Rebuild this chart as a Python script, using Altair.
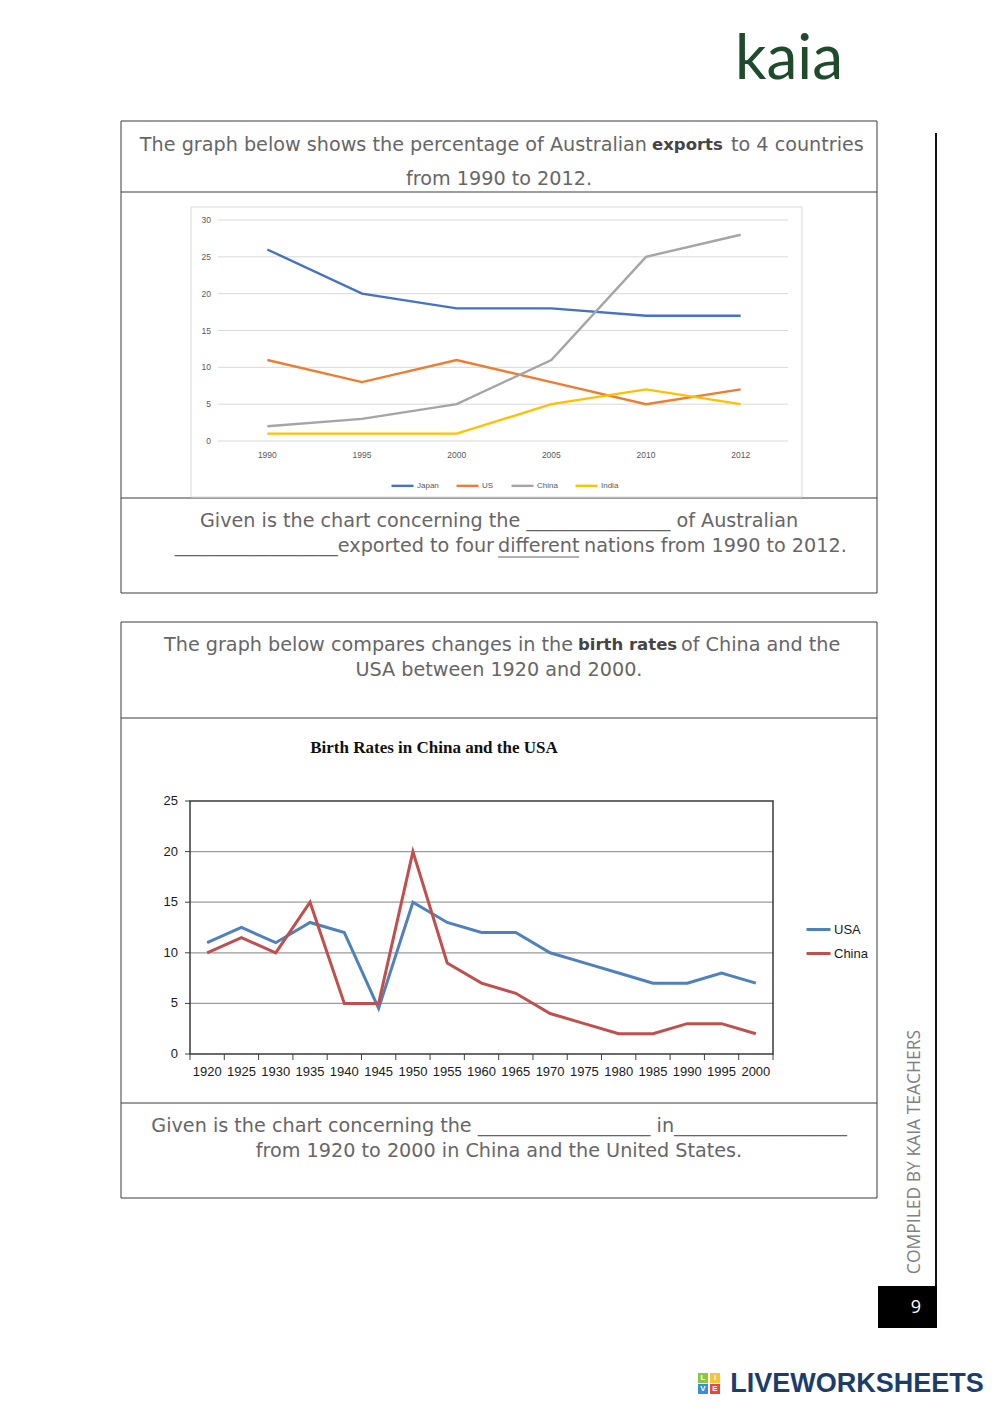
import altair as alt
import pandas as pd

# ---------------- data: chart 1 (Australian exports) ----------------
years1 = ["1990", "1995", "2000", "2005", "2010", "2012"]
series1 = ["Japan", "US", "China", "India"]
japan = [26, 20, 18, 18, 17, 17]
us = [11, 8, 11, 8, 5, 7]
china1 = [2, 3, 5, 11, 25, 28]
india = [1, 1, 1, 5, 7, 5]
colors1 = ["#4472C4", "#ED7D31", "#A5A5A5", "#FFC000"]
yticks1 = [0, 5, 10, 15, 20, 25, 30]

# ---------------- data: chart 2 (birth rates) ----------------
years2 = ["1920", "1925", "1930", "1935", "1940", "1945", "1950", "1955", "1960",
          "1965", "1970", "1975", "1980", "1985", "1990", "1995", "2000"]
series2 = ["USA", "China"]
usa = [11, 12.5, 11, 13, 12, 4.5, 15, 13, 12, 12, 10, 9, 8, 7, 7, 8, 7]
china2 = [10, 11.5, 10, 15, 5, 5, 20, 9, 7, 6, 4, 3, 2, 2, 3, 3, 2]
colors2 = ["#4F81BD", "#C0504D"]
yticks2 = [0, 5, 10, 15, 20, 25]

W, H = 984, 1392
M = 8  # page margin
BODY = "DejaVu Sans"
GRAY = "#666666"
FS = 19.2
BFS = 16.5


def v(p):
    return alt.value(p - M)


base = alt.Chart(pd.DataFrame({"k": [0]}))


def txt(s, x, y, size=FS, color=GRAY, align="center", weight="normal",
        font=BODY, angle=0, baseline="middle"):
    return base.mark_text(text=s, fontSize=size, color=color, align=align,
                          fontWeight=weight, font=font, angle=angle,
                          baseline=baseline).encode(x=v(x), y=v(y))


def rule(x1, y1, x2, y2, color="#333333", w=1):
    return base.mark_rule(color=color, strokeWidth=w).encode(
        x=v(x1), y=v(y1), x2=v(x2), y2=v(y2))


def rect(x1, y1, x2, y2, fill=None, stroke=None, w=1):
    kw = {}
    if fill is not None:
        kw["fill"] = fill
    else:
        kw["fillOpacity"] = 0
    if stroke is not None:
        kw["stroke"] = stroke
        kw["strokeWidth"] = w
    return base.mark_rect(**kw).encode(x=v(x1), y=v(y1), x2=v(x2), y2=v(y2))


# ---------------- page decorations ----------------
decor = [
    # logo
    txt("kaia", 789, 79, size=62, color="#1f4a2c", font="Lato", baseline="alphabetic"),
    # box 1
    rect(121, 121, 877, 593, stroke="#3a3a3a"),
    rule(121, 192, 877, 192, "#3a3a3a"),
    rule(121, 498, 877, 498, "#3a3a3a"),
    txt("The graph below shows the percentage of Australian", 647, 145, align="right"),
    txt("exports", 652, 145, size=BFS, align="left", weight="bold", color="#454545"),
    txt("to 4 countries", 731, 145, align="left"),
    txt("from 1990 to 2012.", 499, 179),
    txt("Given is the chart concerning the _______________ of Australian", 499, 521),
    txt("_________________exported to four", 494, 546, align="right"),
    txt("different", 498, 546, align="left"),
    rule(498, 557, 579, 557, GRAY, 1),
    txt("nations from 1990 to 2012.", 584, 546, align="left"),
    # chart 1 frame
    rect(191, 207, 802, 497, stroke="#d9d9d9"),
    # box 2
    rect(121, 622, 877, 1198, stroke="#3a3a3a"),
    rule(121, 718, 877, 718, "#3a3a3a"),
    rule(121, 1103, 877, 1103, "#3a3a3a"),
    txt("The graph below compares changes in the", 573, 645, align="right"),
    txt("birth rates", 578, 645, size=BFS, align="left", weight="bold", color="#454545"),
    txt("of China and the", 681, 645, align="left"),
    txt("USA between 1920 and 2000.", 499, 670),
    txt("Birth Rates in China and the USA", 434, 748, size=17, color="#111111",
        weight="bold", font="Liberation Serif"),
    txt("Given is the chart concerning the __________________ in__________________", 499, 1126),
    txt("from 1920 to 2000 in China and the United States.", 499, 1151),
    # right margin
    rule(936, 133, 936, 1290, "#111111", 2),
    rect(878, 1286, 937, 1328, fill="#000000"),
    txt("9", 916, 1308, size=18, color="#ffffff", font="Open Sans"),
    txt("COMPILED BY KAIA TEACHERS", 915, 1152, size=17.5, color="#808080",
        angle=270, font="Open Sans"),
    # liveworksheets
    rect(698, 1373, 708, 1383, fill="#8cc63f"),
    rect(710, 1373, 720, 1383, fill="#f7c531"),
    rect(698, 1384, 708, 1394, fill="#3b8fd4"),
    rect(710, 1384, 720, 1394, fill="#e8483b"),
    txt("L", 703, 1378, size=8, color="#ffffff", font="Liberation Sans", weight="bold"),
    txt("I", 715, 1378, size=8, color="#ffffff", font="Liberation Sans", weight="bold"),
    txt("V", 703, 1389, size=8, color="#ffffff", font="Liberation Sans", weight="bold"),
    txt("E", 715, 1389, size=8, color="#ffffff", font="Liberation Sans", weight="bold"),
    txt("LIVEWORKSHEETS", 857, 1392, size=27, color="#1b3d6e", weight="bold",
        font="Liberation Sans", baseline="alphabetic"),
]

# ---------------- chart 1 ----------------
df1 = pd.DataFrame({
    "year": years1 * len(series1),
    "series": [s for s in series1 for _ in years1],
    "value": japan + us + china1 + india,
})
x1s = alt.Scale(type="point", domain=years1, range=[220 - M, 788 - M], padding=0.5)
y1s = alt.Scale(domain=[0, 30], range=[441 - M, 220 - M], nice=False, zero=False)

grid1 = alt.Chart(pd.DataFrame({"value": yticks1})).mark_rule(
    color="#d9d9d9", strokeWidth=1).encode(
    y=alt.Y("value:Q", scale=y1s, axis=None), x=v(218), x2=v(788))
ylab1 = alt.Chart(pd.DataFrame({"value": yticks1})).mark_text(
    align="right", baseline="middle", fontSize=8.5, color="#595959",
    font="Liberation Sans").encode(
    y=alt.Y("value:Q", scale=y1s, axis=None), x=v(211), text="value:Q")
xlab1 = alt.Chart(pd.DataFrame({"year": years1})).mark_text(
    align="center", baseline="middle", fontSize=8.5, color="#595959",
    font="Liberation Sans").encode(
    x=alt.X("year:O", scale=x1s, axis=None), y=v(455), text="year:N")
lines1 = alt.Chart(df1).mark_line(strokeWidth=2.4).encode(
    x=alt.X("year:O", scale=x1s, axis=None),
    y=alt.Y("value:Q", scale=y1s, axis=None),
    color=alt.Color("series:N", scale=alt.Scale(domain=series1, range=colors1),
                    legend=alt.Legend(title=None, orient="none", direction="horizontal",
                                      legendX=390 - M, legendY=479 - M - 6,
                                      symbolType="stroke", symbolSize=484,
                                      symbolStrokeWidth=2.4, labelFontSize=8,
                                      labelColor="#595959", labelFont="Liberation Sans",
                                      labelOffset=2, columnPadding=12)),
    detail="series:N",
)
chart1 = alt.layer(grid1, ylab1, xlab1, lines1)

# ---------------- chart 2 ----------------
df2 = pd.DataFrame({
    "year": years2 * len(series2),
    "series": [s for s in series2 for _ in years2],
    "value": usa + china2,
})
x2s = alt.Scale(type="band", domain=years2, range=[190 - M, 773 - M],
                paddingInner=0, paddingOuter=0)
y2s = alt.Scale(domain=[0, 25], range=[1054 - M, 801 - M], nice=False, zero=False)

grid2 = alt.Chart(pd.DataFrame({"value": yticks2[1:-1]})).mark_rule(
    color="#9a9a9a", strokeWidth=1.2).encode(
    y=alt.Y("value:Q", scale=y2s, axis=None), x=v(190), x2=v(773))
ytick2 = alt.Chart(pd.DataFrame({"value": yticks2})).mark_rule(
    color="#404040", strokeWidth=1).encode(
    y=alt.Y("value:Q", scale=y2s, axis=None), x=v(185), x2=v(190))
ylab2 = alt.Chart(pd.DataFrame({"value": yticks2})).mark_text(
    align="right", baseline="middle", fontSize=13, color="#1a1a1a",
    font="Liberation Sans").encode(
    y=alt.Y("value:Q", scale=y2s, axis=None), x=v(178), text="value:Q")
xtick2 = alt.Chart(pd.DataFrame({"year": years2})).mark_rule(
    color="#404040", strokeWidth=1).encode(
    x=alt.X("year:O", scale=x2s, axis=None, bandPosition=0), y=v(1054), y2=v(1060))
xlab2 = alt.Chart(pd.DataFrame({"year": years2})).mark_text(
    align="center", baseline="middle", fontSize=13, color="#1a1a1a",
    font="Liberation Sans").encode(
    x=alt.X("year:O", scale=x2s, axis=None, bandPosition=0.5), y=v(1072), text="year:N")
lines2 = alt.Chart(df2).mark_line(strokeWidth=3).encode(
    x=alt.X("year:O", scale=x2s, axis=None, bandPosition=0.5),
    y=alt.Y("value:Q", scale=y2s, axis=None),
    color=alt.Color("series:N", scale=alt.Scale(domain=series2, range=colors2),
                    legend=alt.Legend(title=None, orient="none", direction="vertical",
                                      legendX=805 - M, legendY=928 - M - 12,
                                      symbolType="stroke", symbolSize=576,
                                      symbolStrokeWidth=3, labelFontSize=13,
                                      labelColor="#1a1a1a", labelFont="Liberation Sans",
                                      labelOffset=2, rowPadding=3)),
    detail="series:N",
)
frame2 = [
    rule(773, 1060, 773, 1054, "#404040", 1),
    rect(190, 801, 773, 1054, stroke="#3a3a3a", w=1.5),
]
chart2 = alt.layer(grid2, ytick2, ylab2, xtick2, xlab2, lines2, *frame2)

chart = alt.layer(*decor, chart1, chart2).resolve_scale(
    x="independent", y="independent", color="independent"
).properties(
    width=W, height=H, padding=0, autosize=alt.AutoSizeParams(type="none"),
    background="white",
).configure_view(strokeWidth=0)

chart.save("out.html", embed_options={"renderer": "svg", "actions": False})
